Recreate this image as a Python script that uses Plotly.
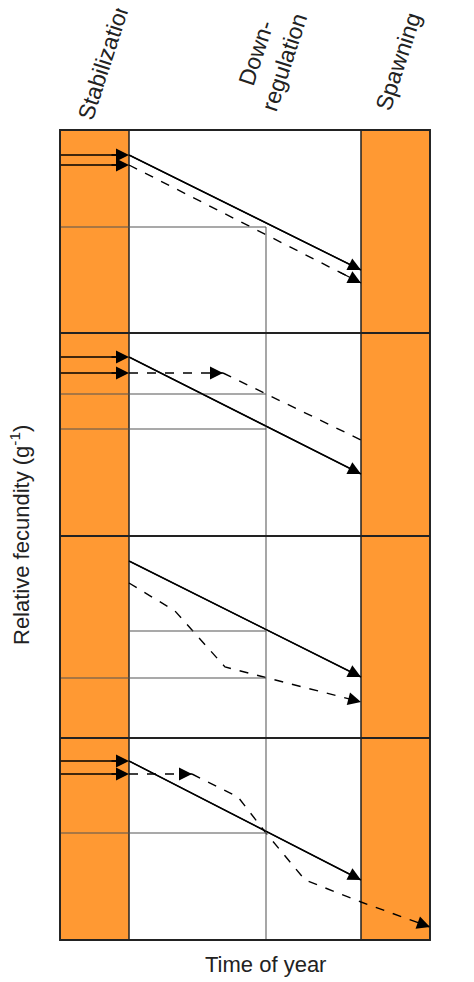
import plotly.graph_objects as go

# Schematic coordinates (pixel-space units of the diagram)
box_x = [60, 430]
orange_cols = [(60, 129), (361, 430)]
panel_y = [130, 333, 536, 738, 940]
grey_v_x = 266
grey_h = [(60, 266, 227), (60, 266, 394), (60, 266, 429), (129, 266, 631), (60, 266, 678), (60, 266, 833)]

# input arrows (horizontal in stabilization column)
inputs_y = [155, 165, 357, 373, 761, 774]

solid_paths = [
    ([129, 361], [155, 270]),
    ([129, 361], [357, 474]),
    ([129, 361], [561, 677]),
    ([129, 361], [761, 880]),
]
dashed_paths = [
    ([129, 361], [165, 283], True),
    ([129, 223], [373, 373], True),
    ([223, 361], [373, 440], False),
    ([129, 175, 225, 361], [583, 611, 667, 702], True),
    ([129, 192], [774, 774], True),
    ([192, 238, 266, 305, 361, 430], [774, 797, 833, 880, 902, 927], True),
]

ORANGE = "#FF9933"
fig = go.Figure()
shapes = []
for x0, x1 in orange_cols:
    shapes.append(dict(type="rect", x0=x0, x1=x1, y0=panel_y[0], y1=panel_y[-1],
                       fillcolor=ORANGE, line=dict(color="#222", width=1.5), layer="below"))
shapes.append(dict(type="line", x0=grey_v_x, x1=grey_v_x, y0=227, y1=940, line=dict(color="#777", width=1.3)))
for x0, x1, y in grey_h:
    shapes.append(dict(type="line", x0=x0, x1=x1, y0=y, y1=y, line=dict(color="#555", width=1.2)))
for y in panel_y:
    shapes.append(dict(type="line", x0=box_x[0], x1=box_x[1], y0=y, y1=y, line=dict(color="#222", width=1.8)))
shapes.append(dict(type="rect", x0=box_x[0], x1=box_x[1], y0=panel_y[0], y1=panel_y[-1],
                   line=dict(color="#222", width=1.8)))

ann = []
def arrow(x0, y0, x1, y1):
    ann.append(dict(x=x1, y=y1, ax=x0, ay=y0, xref="x", yref="y", axref="x", ayref="y",
                    text="", showarrow=True, arrowhead=2, arrowsize=2.0, arrowwidth=1.3,
                    arrowcolor="black", standoff=0))

for y in inputs_y:
    fig.add_trace(go.Scatter(x=[60, 125], y=[y, y], mode="lines", line=dict(color="black", width=1.5)))
    arrow(110, y, 129, y)
for xs, ys in solid_paths:
    fig.add_trace(go.Scatter(x=xs, y=ys, mode="lines", line=dict(color="black", width=1.5)))
    arrow(xs[-2], ys[-2], xs[-1], ys[-1])
for xs, ys, head in dashed_paths:
    fig.add_trace(go.Scatter(x=xs, y=ys, mode="lines", line=dict(color="black", width=1.4, dash="dash")))
    if head:
        dx, dy = xs[-1] - xs[-2], ys[-1] - ys[-2]
        arrow(xs[-1] - dx * 0.1, ys[-1] - dy * 0.1, xs[-1], ys[-1])

F = "Liberation Sans, Arial, sans-serif"
for txt, x, y in [("Stabilization", 104, 60), ("Down-<br>regulation", 270, 58), ("Spawning", 398, 62)]:
    ann.append(dict(x=x, y=y, xref="x", yref="y", text=txt, showarrow=False, textangle=-72,
                    font=dict(family=F, size=23, color="#222")))
ann.append(dict(x=265, y=964, xref="x", yref="y", text="Time of year", showarrow=False,
                font=dict(family=F, size=22, color="#222")))
ann.append(dict(x=20, y=535, xref="x", yref="y", text="Relative fecundity (g<sup>-1</sup>)", showarrow=False,
                textangle=-90, font=dict(family=F, size=22, color="#222")))

fig.update_layout(width=474, height=982, margin=dict(l=0, r=0, t=0, b=0), showlegend=False,
                  plot_bgcolor="white", paper_bgcolor="white", shapes=shapes, annotations=ann,
                  xaxis=dict(range=[8, 482], visible=False, fixedrange=True),
                  yaxis=dict(range=[990, 8], visible=False, fixedrange=True))
fig.write_html("out.html")
